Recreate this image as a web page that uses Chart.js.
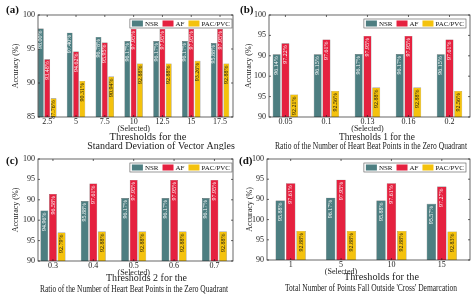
<!DOCTYPE html>
<html>
<head>
<meta charset="utf-8">
<script src="https://cdn.jsdelivr.net/npm/chart.js@4.4.0/dist/chart.umd.min.js"></script>
<style>
  body { margin: 0; background: #fff; width: 474px; height: 299px; position: relative; overflow: hidden; }
  .panel { position: absolute; width: 237px; height: 150px; }
  .tag { position: absolute; font: bold 11px "Liberation Serif"; color: #111; }
</style>
</head>
<body>
<div class="panel" style="left:0;top:0"><canvas id="chartA" width="237" height="150"></canvas></div>
<div class="panel" style="left:237px;top:0"><canvas id="chartB" width="237" height="150"></canvas></div>
<div class="panel" style="left:0;top:149px"><canvas id="chartC" width="237" height="150"></canvas></div>
<div class="panel" style="left:237px;top:149px"><canvas id="chartD" width="237" height="150"></canvas></div>
<div class="tag" style="left:6px;top:3px">(a)</div>
<div class="tag" style="left:240px;top:3px">(b)</div>
<div class="tag" style="left:6px;top:154px">(c)</div>
<div class="tag" style="left:239px;top:154px">(d)</div>
<script>
const seriesNames = ["NSR", "AF", "PAC/PVC"];
const seriesColors = ["#4D7E81", "#E5213F", "#F4C20D"];
const labelColors = ["#ffffff", "#ffffff", "#111111"];

// (a) standard deviation of vector angles
const catsA = ["2.5", "5", "7.5", "10", "12.5", "15", "17.5"];
const nsrA = [98.00, 97.40, 96.78, 96.17, 96.17, 96.17, 95.88];
const afA = [93.48, 94.62, 95.95, 97.95, 97.95, 97.95, 97.95];
const pacA = [87.76, 90.31, 90.94, 92.88, 92.88, 93.26, 92.88];
const yTicksA = ["85", "90", "95", "100"];

// (b) threshold 1, zero quadrant ratio
const catsB = ["0.05", "0.1", "0.13", "0.16", "0.2"];
const nsrB = [96.14, 96.15, 96.17, 96.17, 96.15];
const afB = [97.22, 97.61, 97.95, 97.95, 97.61];
const pacB = [92.21, 92.56, 92.88, 92.88, 92.56];

// (c) threshold 2, zero quadrant ratio
const catsC = ["0.3", "0.4", "0.5", "0.6", "0.7"];
const nsrC = [94.96, 95.88, 96.17, 96.17, 96.17];
const afC = [96.58, 97.61, 97.95, 97.95, 97.95];
const pacC = [92.79, 92.88, 92.88, 92.88, 92.88];

// (d) points outside 'cross' demarcation
const catsD = ["1", "5", "10", "15"];
const nsrD = [95.88, 96.17, 95.88, 95.57];
const afD = [97.61, 97.95, 97.61, 97.27];
const pacD = [92.88, 92.88, 92.88, 92.83];

// the broken axis in (b)-(d) is labelled like this
const yTicksBroken = ["90", "95", "100", "90", "95", "100"];

const serif = "Liberation Serif";

// frame, inward ticks, value labels, boxed legend and the two-line x title
const decor = {
  id: "decor",
  afterDatasetsDraw(chart, args, opts) {
    const {ctx, chartArea: a, scales} = chart;
    const geo = opts.geo;
    ctx.save();
    ctx.strokeStyle = "#262626";
    ctx.lineWidth = 0.7;
    ctx.strokeRect(a.left, a.top, a.right - a.left, a.bottom - a.top);
    ctx.beginPath();
    scales.y.ticks.forEach(t => {
      const y = scales.y.getPixelForValue(t.value);
      ctx.moveTo(a.left, y); ctx.lineTo(a.left + 2, y);
      ctx.moveTo(a.right, y); ctx.lineTo(a.right - 2, y);
    });
    scales.x.ticks.forEach(t => {
      const x = scales.x.getPixelForValue(t.value);
      ctx.moveTo(x, a.bottom); ctx.lineTo(x, a.bottom - 2);
      ctx.moveTo(x, a.top); ctx.lineTo(x, a.top + 2);
    });
    ctx.stroke();

    // value labels, rotated inside the bars
    ctx.font = '6px "' + serif + '"';
    chart.data.datasets.forEach((ds, di) => {
      chart.getDatasetMeta(di).data.forEach((bar, i) => {
        ctx.save();
        ctx.translate(bar.x, bar.y + 2);
        ctx.rotate(-Math.PI / 2);
        ctx.textAlign = "right";
        ctx.textBaseline = "middle";
        ctx.fillStyle = labelColors[di];
        ctx.fillText(ds.data[i].y.toFixed(2) + "%", 0, 0);
        ctx.restore();
      });
    });

    // legend
    ctx.font = '7px "' + serif + '"';
    const sw = 11, sh = 6, gap = 2, sep = 4, pad = 2, h = 9;
    const tw = seriesNames.map(n => ctx.measureText(n).width);
    let w = pad * 2 + sep * (seriesNames.length - 1);
    tw.forEach(t => { w += sw + gap + t; });
    const x0 = a.right - geo.lr - w, y0 = a.top + 4;
    ctx.fillStyle = "#fff";
    ctx.fillRect(x0, y0, w, h);
    ctx.strokeStyle = "#555";
    ctx.lineWidth = 0.6;
    ctx.strokeRect(x0, y0, w, h);
    let x = x0 + pad;
    seriesNames.forEach((n, i) => {
      ctx.fillStyle = seriesColors[i];
      ctx.fillRect(x, y0 + (h - sh) / 2, sw, sh);
      x += sw + gap;
      ctx.fillStyle = "#111";
      ctx.textAlign = "left";
      ctx.textBaseline = "middle";
      ctx.fillText(n, x, y0 + h / 2 + 0.5);
      x += tw[i] + sep;
    });

    // x-axis title lines (squeezed to the width they take in the figure)
    ctx.fillStyle = "#222";
    ctx.textAlign = "center";
    ctx.textBaseline = "middle";
    opts.title.forEach((line, i) => {
      ctx.font = (i === 0 ? 10.5 : 10) + 'px "' + serif + '"';
      ctx.fillText(line, geo.tx[i], geo.ty[i], geo.tw[i]);
    });
    ctx.restore();
  }
};

function makePanel(id, cats, sel, nsr, af, pac, yRange, yLabels, xRange, title, geo) {
  const pts = arr => arr.map((v, i) => ({x: i, y: v}));
  const series = [nsr, af, pac];
  new Chart(document.getElementById(id), {
    type: "bar",
    data: {
      datasets: series.map((s, i) => ({
        label: seriesNames[i],
        data: pts(s),
        backgroundColor: seriesColors[i],
        borderColor: "#3a3a3a",
        borderWidth: 0.4
      }))
    },
    options: {
      responsive: false,
      animation: false,
      layout: {padding: {top: geo.top, right: geo.right, left: 0, bottom: 0}},
      datasets: {bar: {categoryPercentage: geo.cp, barPercentage: 0.9}},
      plugins: {
        legend: {display: false},
        tooltip: {enabled: false},
        decor: {geo: geo, title: title}
      },
      scales: {
        x: {
          type: "linear", min: xRange[0], max: xRange[1], offset: false,
          grid: {display: false, drawTicks: false, offset: false}, border: {display: false},
          afterBuildTicks: s => { s.ticks = cats.map((c, i) => ({value: i})); },
          afterFit: s => { s.height = geo.xh; },
          ticks: {
            autoSkip: false, maxRotation: 0, padding: 2, color: "#222",
            font: {family: serif, size: 8, lineHeight: 0.8},
            callback: v => v === sel ? [cats[v], "(Selected)"] : cats[v]
          }
        },
        y: {
          min: yRange[0], max: yRange[1],
          grid: {display: false, drawTicks: false}, border: {display: false},
          afterBuildTicks: s => { s.ticks = yLabels.map((l, i) => ({value: yRange[0] + i * yRange[2]})); },
          afterFit: s => { s.width = geo.yw; },
          ticks: {padding: 3, color: "#222", font: {family: serif, size: 8}, callback: (v, i) => yLabels[i]},
          title: {
            display: true, text: "Accuracy (%)", color: "#222",
            font: {family: serif, size: 8}, padding: {top: geo.yt, bottom: 0}
          }
        }
      }
    },
    plugins: [decor]
  });
}

makePanel("chartA", catsA, 3, nsrA, afA, pacA, [85, 100, 5], yTicksA, [-0.32, 6.45],
  ["Thresholds for the", "Standard Deviation of Vector Angles"],
  {top: 15, right: 4, yw: 38, xh: 33, yt: 11, cp: 0.66, lr: 1,
   tx: [148, 161], ty: [137.5, 146], tw: [82, 150]});
makePanel("chartB", catsB, 2, nsrB, afB, pacB, [90, 100, 2], yTicksBroken, [-0.4, 4.5],
  ["Thresholds 1 for the", "Ratio of the Number of Heart Beat Points in the Zero Quadrant"],
  {top: 15, right: 4, yw: 32, xh: 33, yt: 7.5, cp: 0.64, lr: 4,
   tx: [140, 134], ty: [137, 146], tw: [76, 192]});
makePanel("chartC", catsC, 2, nsrC, afC, pacC, [90, 100, 2], yTicksBroken, [-0.37, 4.46],
  ["Thresholds 2 for the", "Ratio of the Number of Heart Beat Points in the Zero Quadrant"],
  {top: 10, right: 4, yw: 38, xh: 38, yt: 11, cp: 0.64, lr: 1,
   tx: [146.5, 134], ty: [129.5, 140], tw: [81, 188]});
makePanel("chartD", catsD, 1, nsrD, afD, pacD, [90, 100, 2], yTicksBroken, [-0.47, 3.56],
  ["Thresholds for the", "Total Number of Points Fall Outside 'Cross' Demarcation"],
  {top: 10, right: 4, yw: 30, xh: 39, yt: 7.7, cp: 0.62, lr: 4,
   tx: [144.5, 134], ty: [128.5, 139], tw: [75, 172]});
</script>
</body>
</html>
